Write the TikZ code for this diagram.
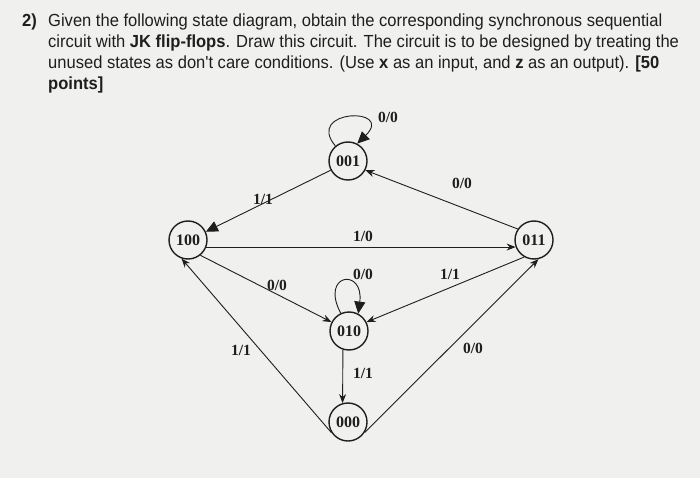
\documentclass[tikz,border=0pt]{standalone}
\usepackage{fontspec}
\setmainfont{Liberation Serif}
\newfontfamily\titlefont{Liberation Sans}[FakeStretch=0.945]
\usetikzlibrary{arrows.meta}
\definecolor{bgc}{RGB}{240,240,238}
\definecolor{ink}{RGB}{30,30,30}
\begin{document}
\begin{tikzpicture}[x=1pt,y=-1pt,
  state/.style={circle,draw=ink,line width=1.4pt,minimum size=38pt,inner sep=0pt,text=ink,font=\fontsize{16}{16}\selectfont\bfseries},
  lab/.style={inner sep=1pt,text=ink,font=\fontsize{15.5}{15.5}\selectfont\bfseries},
  edge/.style={draw=ink,line width=0.9pt,-{Stealth[length=9pt,width=7pt]}},
  bigedge/.style={draw=ink,line width=0.9pt,-{Triangle[length=12pt,width=11pt]}},
  tline/.style={anchor=base west,inner sep=0pt,text=ink,font=\titlefont\fontsize{17.5}{21}\selectfont}]
\fill[bgc] (0,0) rectangle (700,478);
\useasboundingbox (0,0) rectangle (700,478);
% title
\node[tline] (t0) at (22,27) {\bfseries 2)};
\node[tline] (t1) at (48,27) {Given the following state diagram, obtain the corresponding synchronous sequential};
\node[tline] (t2) at (48,48) {circuit with \textbf{JK flip-flops}. Draw this circuit. The circuit is to be designed by treating the};
\node[tline] (t3) at (48,69) {unused states as don't care conditions. (Use \textbf{x} as an input, and \textbf{z} as an output). \textbf{[50}};
\node[tline] (t4) at (48,90) {\textbf{points]}};
% states
\node[state] (s001) at (348,161) {001};
\node[state] (s100) at (188,240) {100};
\node[state] (s011) at (534,240) {011};
\node[state] (s010) at (349,331) {010};
\node[state] (s000) at (348,422) {000};
% transitions
\draw[edge] (s011.146) -- (s001.332);
\draw[bigedge] (s001.208) -- (s100.25);
\draw[edge] (s100.339) -- (s011.201);
\draw[edge] (s100.309) -- (s010.153);
\draw[edge] (s011.240) -- (s010.27);
\draw[edge] (s010.252) -- (s000.106);
\draw[edge] (s000.213) -- (s100.251);
\draw[edge] (s000.328) -- (s011.283);
\draw[bigedge] (s001.130) .. controls +(-31,-37) and +(38,-37) .. (s001.62);
\draw[bigedge] (s010.115) .. controls +(-21,-40) and +(6,-46) .. (s010.62);
% labels
\node[lab] (l1) at (388,117) {0/0};
\node[lab] (l2) at (462,183) {0/0};
\node[lab] (l3) at (263,199) {1/1};
\node[lab] (l4) at (363,236) {1/0};
\node[lab] (l5) at (277,285) {0/0};
\node[lab] (l6) at (363,274) {0/0};
\node[lab] (l7) at (450,274) {1/1};
\node[lab] (l8) at (241,350) {1/1};
\node[lab] (l9) at (473,348) {0/0};
\node[lab] (l10) at (363,373) {1/1};
\end{tikzpicture}
\end{document}
